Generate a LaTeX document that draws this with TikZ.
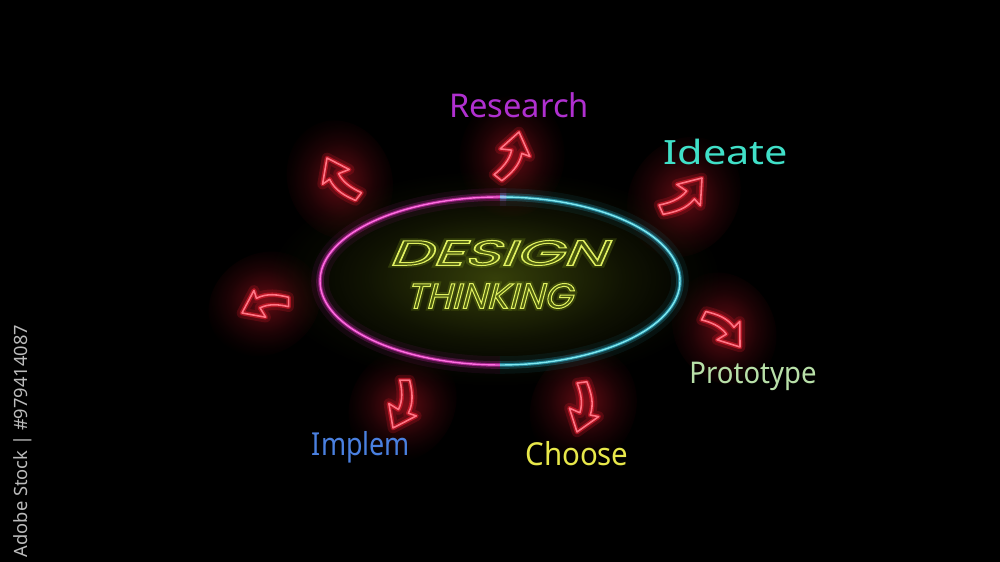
\documentclass[tikz,border=0pt]{standalone}
\usepackage{fontspec}
\setmainfont{Noto Sans}
\newfontfamily\dtfont[FakeSlant=0.25]{Poppins}
\usetikzlibrary{fadings}
\pgfdeclareradialshading{softglowsh}{\pgfpointorigin}{color(0bp)=(white); color(7bp)=(white!65!black); color(14bp)=(white!30!black); color(20bp)=(white!10!black); color(25bp)=(black); color(50bp)=(black)}
\pgfdeclarefading{softglow}{\pgfuseshading{softglowsh}}
\definecolor{neonred}{HTML}{FF1E32}
\definecolor{arrowcore}{HTML}{FF7585}
\definecolor{magc}{HTML}{E830C8}
\definecolor{magcore}{HTML}{FF70E0}
\definecolor{cyc}{HTML}{30C0E0}
\definecolor{cycore}{HTML}{80E8F0}
\definecolor{dtc}{HTML}{E0F060}
\definecolor{dtglow}{HTML}{90B020}
\definecolor{innerglow}{HTML}{5A6A10}
\definecolor{researchc}{HTML}{B030D0}
\definecolor{ideatec}{HTML}{40E0C8}
\definecolor{protoc}{HTML}{B8E0A8}
\definecolor{choosec}{HTML}{E8E84A}
\definecolor{implemc}{HTML}{4A80E0}
\definecolor{wmgray}{HTML}{BBBBBB}
\newcommand\strk[2]{\special{pdf:literal direct #1 Tr #2 w}}
\tikzset{
  arrowglowA/.style={draw=neonred, line width=3pt, opacity=0.18, line join=round},
  arrowglowB/.style={draw=neonred, line width=1.3pt, opacity=0.5, line join=round},
  arrowcoreS/.style={draw=arrowcore, line width=0.45pt, line join=round},
  lbl/.style={inner sep=0pt, transform shape},
  dt/.style={inner sep=0pt, text=dtc, font=\dtfont\fontsize{10}{12}\selectfont, transform shape},
  dtg/.style={inner sep=0pt, text=dtglow, opacity=0.22, font=\dtfont\fontsize{10}{12}\selectfont, transform shape},
}
\newcommand\neonarrowglow[5]{%
  \begin{scope}[shift={(#1,#2)},rotate=#3,scale=#4,xscale=#5]
    \fill[neonred,opacity=0.38,path fading=softglow] (-4,24) ellipse (50 and 58);
  \end{scope}}
\newcommand\neonarrow[5]{%
  \begin{scope}[shift={(#1,#2)},rotate=#3,scale=#4,xscale=#5]
    \foreach \st in {arrowglowA,arrowglowB,arrowcoreS}{
      \draw[\st] (0,0) -- (13,22) -- (5,20) .. controls (4,32) and (-3,40) .. (-11,48)
        -- (-19,43) .. controls (-12,36) and (-6,28) .. (-5,18) -- (-16,18) -- cycle;}
  \end{scope}}
\begin{document}
\begin{tikzpicture}[x=0.01cm,y=-0.01cm]
\fill[black] (0,0) rectangle (1000,562);
\useasboundingbox (0,0) rectangle (1000,562);

% inner glow of the text
\fill[innerglow,opacity=0.6,path fading=softglow] (495,278) ellipse (230 and 110);

% arrow glows
\neonarrowglow{327}{158}{21}{1.04}{-1}
\neonarrowglow{519}{132}{-6.5}{1.05}{1}
\neonarrowglow{702}{178}{-34}{1.08}{1}
\neonarrowglow{740}{347}{-149}{1.0}{-1}
\neonarrowglow{242}{313}{121.5}{1.0}{1}
\neonarrowglow{393}{428}{148}{1.03}{-1}
\neonarrowglow{577}{432}{156}{1.04}{-1}

% ellipse
\coordinate (ebot) at (500,365);
\coordinate (etop) at (500,197);
\foreach \w/\o in {5pt/0.07,2.2pt/0.22,1pt/0.55}{
  \draw[magc,line width=\w,opacity=\o] (ebot) arc[start angle=90,end angle=272,x radius=180,y radius=84];
  \draw[cyc,line width=\w,opacity=\o] (etop) arc[start angle=270,end angle=450,x radius=180,y radius=84];
}
\draw[magcore,line width=0.4pt] (ebot) arc[start angle=90,end angle=272,x radius=180,y radius=84];
\draw[cycore,line width=0.4pt] (etop) arc[start angle=270,end angle=450,x radius=180,y radius=84];

% arrows
\neonarrow{327}{158}{21}{1.04}{-1}
\neonarrow{519}{132}{-6.5}{1.05}{1}
\neonarrow{702}{178}{-34}{1.08}{1}
\neonarrow{740}{347}{-149}{1.0}{-1}
\neonarrow{242}{313}{121.5}{1.0}{1}
\neonarrow{393}{428}{148}{1.03}{-1}
\neonarrow{577}{432}{156}{1.04}{-1}

% DESIGN THINKING
\node[dtg,xscale=1.75] (designglow) at (497,253) {\strk{2}{1.3}DESIGN\strk{0}{1}};
\node[dtg,xscale=1.05] (thinkingglow) at (489,296) {\strk{2}{1.3}THINKING\strk{0}{1}};
\node[dt,xscale=1.75] (design) at (497,253) {\strk{1}{0.28}DESIGN\strk{0}{1}};
\node[dt,xscale=1.05] (thinking) at (489,296) {\strk{1}{0.28}THINKING\strk{0}{1}};

% labels
\node[lbl,text=researchc,font=\fontsize{9.3}{11}\selectfont] (research) at (519,105) {Research};
\node[lbl,text=ideatec,font=\fontsize{9.5}{11}\selectfont,xscale=1.24] (ideate) at (726,152) {Ideate};
\node[lbl,text=protoc,font=\fontsize{8.5}{10}\selectfont,xscale=0.92] (prototype) at (753,376) {Prototype};
\node[lbl,text=implemc,font=\fontsize{9}{11}\selectfont,xscale=0.85] (implem) at (361,447) {Implem};
\node[lbl,text=choosec,font=\fontsize{9}{11}\selectfont,xscale=0.93] (choose) at (577,454) {Choose};

% vertical stock id
\node[lbl,rotate=90,text=wmgray,font=\fontsize{5.2}{6}\selectfont] (stockid) at (23,441) {Adobe Stock | \#979414087};
\end{tikzpicture}
\end{document}
